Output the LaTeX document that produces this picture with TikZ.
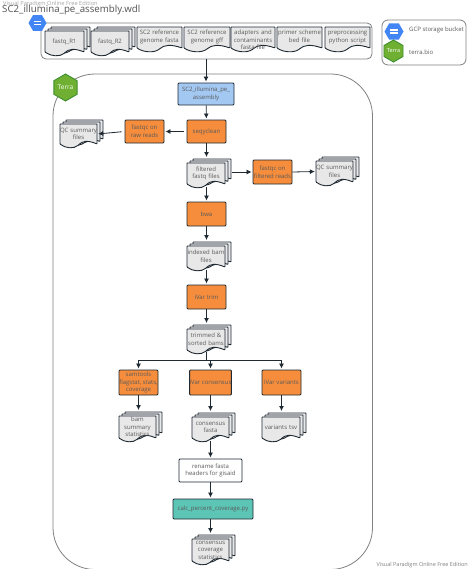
\documentclass[tikz,border=0pt]{standalone}
\usepackage{fontspec}
\setmainfont{Open Sans}
\usetikzlibrary{arrows.meta,shapes.geometric}
\definecolor{txt}{HTML}{5A5A5A}
\definecolor{docfill}{HTML}{E8E8E8}
\definecolor{orangebox}{HTML}{F68D3C}
\definecolor{bluebox}{HTML}{A3C8F2}
\definecolor{tealbox}{HTML}{5CC5B6}
\definecolor{edge}{HTML}{1F2A33}
\definecolor{frame}{HTML}{808080}
\definecolor{gcpblue}{HTML}{4285F4}
\definecolor{terrafill}{HTML}{6FB033}
\definecolor{terraline}{HTML}{3F8F2F}
\tikzset{
  every node/.style={font=\fontsize{6}{7.6}\selectfont,text=txt,align=center,inner sep=0pt},
  flow/.style={draw=edge,line width=.8pt,shorten >=1pt,-{Latex[length=5pt,width=5pt]}},
  bus/.style={draw=edge,line width=.8pt},
  taskbox/.style={draw=edge,line width=.9pt,rounded corners=1pt,text=txt},
  doclayer/.style={draw=edge,line width=.9pt,fill=docfill,line join=round},
  frameline/.style={draw=frame,line width=.8pt,fill=white},
  doclabel/.style={text=txt},
  gcphex/.style={regular polygon,regular polygon sides=6,fill=gcpblue},
  terrahex/.style={regular polygon,regular polygon sides=6,shape border rotate=30,draw=terraline,line width=.9pt,fill=terrafill,text=white},
  hexbar/.style={fill=white,minimum height=1.2pt},
}
% x0 y0 x1 y1 name fill
\newcommand{\taskn}[6]{%
  \node[taskbox,fill=#6,minimum width=#3pt-#1pt,minimum height=#4pt-#2pt] (#5) at ({(#1+#3)/2},{(#2+#4)/2}) {\TASKTEXT};}
\newcommand{\wavepage}[4]{% x0 y0 x1 y1
  \draw[doclayer,rounded corners=.6pt] (#1,{#4-4}) -- (#1,#2) -- (#3,#2) -- (#3,{#4-4})
   .. controls ({#3-(#3-#1)*.25},{#4-8}) and ({#1+(#3-#1)*.6},{#4-7}) .. ({#1+(#3-#1)*.5},{#4-3})
   .. controls ({#1+(#3-#1)*.38},{#4+1}) and ({#1+(#3-#1)*.15},{#4+.5}) .. (#1,{#4-4}) -- cycle;}
\newcommand{\singledoc}[6]{%
  \wavepage{#2}{#3}{#4}{#5}%
  \node[doclabel,anchor=north,text width={#4pt-#2pt}] (#1) at ({(#2+#4)/2},{#3+3}) {#6};}
\newcommand{\stackdoc}[6]{%
  \wavepage{#2+6}{#3}{#4}{#5-5}%
  \wavepage{#2+3}{#3+2}{#4-3}{#5-2.5}%
  \wavepage{#2}{#3+4}{#4-6}{#5}%
  \node[doclabel,text width={#4pt-#2pt-6pt}] (#1) at ({(#2+#4-6)/2},{(#3+#5)/2}) {#6};}
\begin{document}
\begin{tikzpicture}[x=1pt,y=-1pt]
\useasboundingbox (0,0) rectangle (474,570);
\fill[white] (0,0) rectangle (474,570);
\node[anchor=west,font=\fontsize{5.7}{7}\selectfont,text=black!35] (wm1) at (3,4.5) {Visual Paradigm Online Free Edition};
\node[anchor=west,font=\fontsize{9.7}{11}\selectfont,text=black!68] (title) at (2,9.5) {SC2\_illumina\_pe\_assembly.wdl};
\node[anchor=east,font=\fontsize{5.5}{7}\selectfont,text=black!50] (wm2) at (468,565) {Visual Paradigm Online Free Edition};
% containers
\begin{scope}
\clip (0,0) rectangle (474,568.7);
\draw[frameline,rounded corners=42pt] (53,74) rectangle (372.5,569.5);
\end{scope}
\node[frameline,rounded corners=5pt,minimum width=331pt,minimum height=36pt] (inputs) at (206.5,41) {};
\node[frameline,rounded corners=6pt,minimum width=84pt,minimum height=45pt] (legend) at (424,42.5) {};
% hexagons
\node[gcphex,minimum size=18pt] (gcpA) at (37.5,23) {};
\node[hexbar,minimum width=7pt] (gcpAa) at (37.5,21.8) {};
\node[hexbar,minimum width=7pt] (gcpAb) at (37.5,24.4) {};
\node[terrahex,minimum size=27pt,font=\fontsize{6.5}{7}\selectfont] (terraA) at (65.5,87.5) {Terra};
\node[gcphex,minimum size=19pt] (gcpB) at (394,31.5) {};
\node[hexbar,minimum width=8pt] (gcpBa) at (394,30) {};
\node[hexbar,minimum width=8pt] (gcpBb) at (394,33) {};
\node[terrahex,minimum size=22pt,font=\fontsize{5.5}{6}\selectfont] (terraB) at (393.5,51) {Terra};
\node[anchor=west] (lgA) at (409,30) {GCP storage bucket};
\node[anchor=west] (lgB) at (409,52) {terra.bio};
% inputs
\stackdoc{r1}{45}{27}{90}{56}{fastq\_R1}
\stackdoc{r2}{91}{27}{135}{56}{fastq\_R2}
\singledoc{gf}{137}{27}{182}{52}{SC2 reference\\genome fasta}
\singledoc{gg}{184}{27}{230}{52}{SC2 reference\\genome gff}
\singledoc{ad}{231}{27}{275}{52}{adapters and\\contaminants\\fasta file}
\singledoc{pb}{277}{27}{322}{52}{primer scheme\\bed file}
\singledoc{pp}{325}{27}{370}{52}{preprocessing\\python script}
% tasks
\def\TASKTEXT{SC2\_illumina\_pe\_\\assembly}\taskn{178}{83}{234}{105}{sc2}{bluebox}
\def\TASKTEXT{seqyclean}\taskn{187}{120}{226}{143}{seqy}{orangebox}
\def\TASKTEXT{fastqc on\\raw reads}\taskn{125}{120}{164}{143}{fqraw}{orangebox}
\def\TASKTEXT{fastqc on\\filtered reads}\taskn{253}{160}{292}{184}{fqfilt}{orangebox}
\def\TASKTEXT{bwa}\taskn{187}{202}{226}{226}{bwa}{orangebox}
\def\TASKTEXT{iVar trim}\taskn{187}{285}{226}{309}{trim}{orangebox}
\def\TASKTEXT{samtools\\flagstat, stats,\\coverage}\taskn{119}{370}{158}{395}{sam}{orangebox}
\def\TASKTEXT{iVar consensus}\taskn{191}{370}{230}{395}{cons}{orangebox}
\def\TASKTEXT{iVar variants}\taskn{262}{370}{301}{395}{vars}{orangebox}
\def\TASKTEXT{rename fasta\\headers for gisaid}\taskn{179}{459}{242}{482}{ren}{white}
\def\TASKTEXT{calc\_percent\_coverage.py}\taskn{173}{499}{253}{519}{calc}{tealbox}
% documents
\stackdoc{qcl}{60}{120}{103}{148}{QC summary\\files}
\stackdoc{filt}{187}{159}{231}{188}{filtered\\fastq files}
\stackdoc{qcr}{316}{157}{359}{186}{QC summary\\files}
\stackdoc{idx}{187}{242}{231}{271}{indexed bam\\files}
\stackdoc{sort}{187}{325}{231}{354}{trimmed \&\\sorted bams}
\stackdoc{bams}{119}{412}{162}{442}{bam\\summary\\statistics}
\stackdoc{cfa}{192}{413}{235}{442}{consensus\\fasta}
\stackdoc{tsv}{262}{413}{306}{442}{variants tsv}
\stackdoc{cov}{192}{535}{235}{565}{consensus\\coverage\\statistics}
% connectors
\path[flow] (inputs.south -| sc2.north) -- (sc2.north);
\path[flow] (sc2) -- (seqy);
\path[flow,shorten <=3pt] (seqy.west) -- (fqraw.east);
\path[flow,shorten <=3pt] (fqraw.west) -- (qcl.east);
\path[flow] (seqy.south) -- (seqy.south |- 0,158);
\path[flow] (seqy.south |- 0,187) -- (bwa.north);
\path[flow] (232,172) -- (fqfilt.west);
\path[flow] (fqfilt.east) -- (qcr.west);
\path[flow] (bwa.south) -- (bwa.south |- 0,241);
\path[flow] (bwa.south |- 0,270) -- (trim.north);
\path[flow] (trim.south) -- (trim.south |- 0,324);
\coordinate (busL) at (sam.north |- 0,360);
\coordinate (busR) at (vars.north |- 0,360);
\coordinate (busM) at (cons.north |- 0,360);
\path[bus] (busL) -- (busR);
\path[bus] (trim.south |- 0,352) -- (trim.south |- 0,360);
\path[flow] (busL) -- (sam.north);
\path[flow] (busM) -- (cons.north);
\path[flow] (busR) -- (vars.north);
\path[flow] (sam.south) -- (sam.south |- 0,411);
\path[flow] (cons.south) -- (cons.south |- 0,412);
\path[flow] (vars.south) -- (vars.south |- 0,412);
\path[flow] (cons.south |- 0,441) -- (cons.south |- ren.north);
\path[flow] (cons.south |- ren.south) -- (cons.south |- calc.north);
\path[flow] (cons.south |- calc.south) -- (cons.south |- 0,534);
\end{tikzpicture}
\end{document}
